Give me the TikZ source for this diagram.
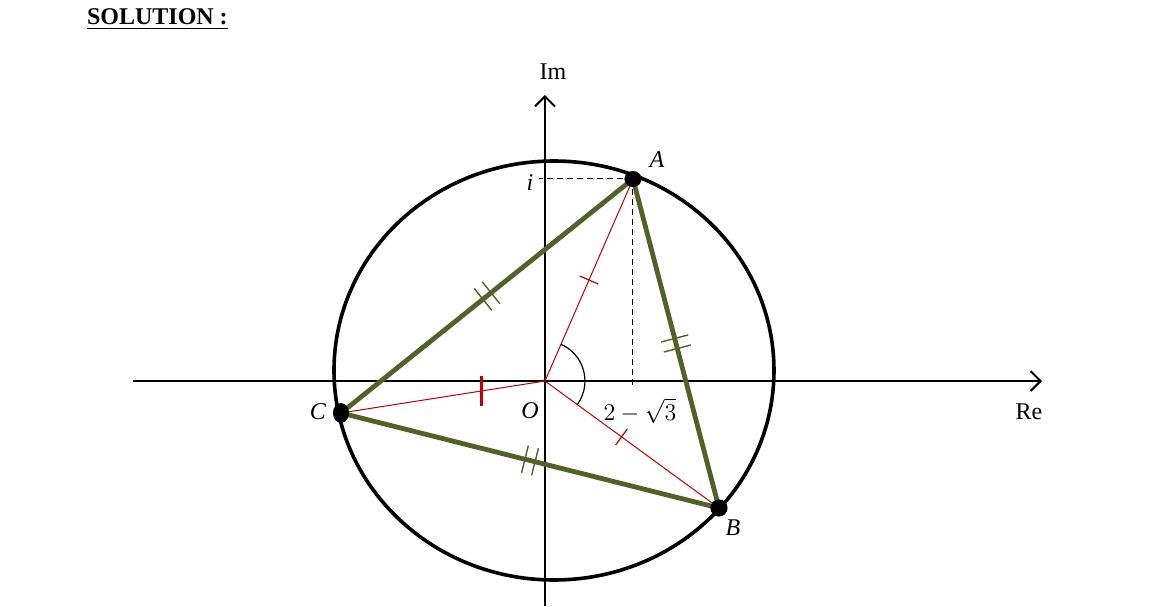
\documentclass[tikz,border=0pt]{standalone}
\usepackage{fontspec}
\setmainfont{Liberation Serif}
\usetikzlibrary{arrows.meta,decorations.markings,calc}
\definecolor{olivegreen}{RGB}{79,98,40}
\definecolor{darkred}{RGB}{192,0,0}
\tikzset{
  axis/.style={line width=1pt,-{Straight Barb[length=5pt,width=10pt]}},
  side/.style={olivegreen,line width=2.4pt},
  ray/.style={darkred,line width=0.5pt},
  guide/.style={line width=0.5pt,dash pattern=on 3pt off 2pt},
  twoticks/.style={postaction={decorate,decoration={markings,
      mark=at position 0.5 with {\draw[olivegreen,line width=0.7pt]
        (-2.6pt,-7pt)--(-2.6pt,7pt) (2.6pt,-7pt)--(2.6pt,7pt);}}}},
  onetick/.style={postaction={decorate,decoration={markings,
      mark=at position #1 with {\draw[darkred,line width=0.6pt]
        (0,-5pt)--(0,5pt);}}}},
  dot/.style={fill=black},
  lbl/.style={font=\fontsize{12}{14}\selectfont,inner sep=1pt}
}
\begin{document}
\begin{tikzpicture}[x=0.5pt,y=0.5pt]
\useasboundingbox (-545,-225) rectangle (608,381);
\node[anchor=west,font=\fontsize{12}{14}\selectfont\bfseries] (title) at (-465,362) {\underline{SOLUTION :}};

\coordinate (O) at (0,0);
\coordinate (A) at (88,202);
\coordinate (B) at (174,-127);
\coordinate (C) at (-204,-32);
\coordinate (xl) at (-412,0);
\coordinate (xr) at (497,0);
\coordinate (yb) at (0,-225);
\coordinate (yt) at (0,286);
\coordinate (Ay) at (-6,202);
\coordinate (Ax) at (88,-7);

\draw[axis] (xl) -- (xr);
\draw[axis] (yb) -- (yt);
\draw[line width=1.8pt] (9,10.5) ellipse[x radius=110pt,y radius=104.75pt];

\draw[guide] (A) -- (Ay);
\draw[guide] (A) -- (Ax);

\draw[ray,onetick=0.5] (O) -- (A);
\draw[ray,onetick=0.44] (O) -- (B);
\draw[ray] (O) -- (C);
\draw[darkred,line width=1.4pt] ($(O)!0.31!(C)$) +(0,15) -- +(0,-15);

\draw[line width=0.6pt] (O) ++(-36.1:20pt) arc[start angle=-36.1,end angle=66.5,radius=20pt];

\draw[side,twoticks] (C) -- (A);
\draw[side,twoticks] (A) -- (B);
\draw[side,twoticks] (C) -- (B);

\fill[dot] (A) circle[x radius=4.3pt,y radius=4pt];
\fill[dot] (B) circle[x radius=4.3pt,y radius=4.3pt];
\fill[dot] (C) circle[x radius=4pt,y radius=5pt];

\node[lbl] (lA) at (112,221) {\textit{A}};
\node[lbl] (lB) at (188,-147) {\textit{B}};
\node[lbl] (lC) at (-227,-31) {\textit{C}};
\node[lbl] (lO) at (-15,-30) {\textit{O}};
\node[lbl] (li) at (-15,198) {\textit{i}};
\node[lbl] (lIm) at (8,309) {Im};
\node[lbl] (lRe) at (484,-31) {Re};
\node[lbl] (lval) at (95,-30) {$2-\sqrt{3}$};
\end{tikzpicture}
\end{document}
